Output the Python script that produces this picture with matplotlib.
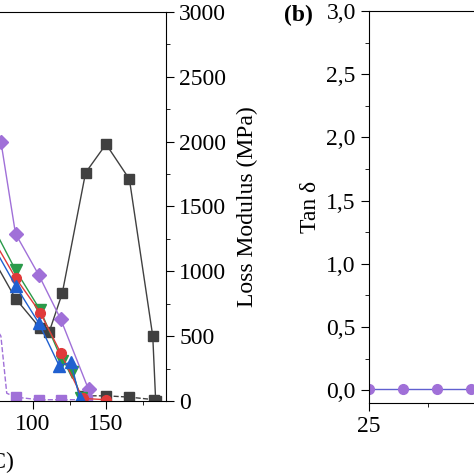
import matplotlib
matplotlib.use("Agg")
import matplotlib.pyplot as plt
from matplotlib.ticker import MultipleLocator, FixedLocator

plt.rcParams['font.family'] = ['Liberation Serif', 'DejaVu Serif']
plt.rcParams['font.size'] = 17

# Loss modulus (MPa) vs temperature (°C)
black_x = [70, 88, 105, 111, 120, 136, 150, 166, 182, 184]
black_y = [1150, 790, 560, 530, 830, 1760, 1980, 1710, 500, 0]
black0_x = [135, 150, 166, 183]
black0_y = [40, 40, 30, 10]
purple_x = [78, 88, 104, 119, 138]
purple_y = [2000, 1290, 970, 630, 90]
purple0_x = [70, 78, 82, 88, 104, 119, 137]
purple0_y = [650, 500, 60, 30, 10, 10, 10]
green_x = [70, 88, 105, 120, 127, 133]
green_y = [1400, 1010, 700, 310, 220, 20]
red_x = [70, 88, 105, 119, 134, 150]
red_y = [1300, 950, 680, 370, 20, 10]
blue_x = [70, 88, 104, 118, 126, 132]
blue_y = [1250, 890, 600, 270, 300, 20]

# Tan delta
tan_x = [25, 39.4, 53.8, 68.2, 82.6]
tan_y = [0.01, 0.01, 0.01, 0.01, 0.01]

fig = plt.figure(figsize=(4.74, 4.74), dpi=100)
ax = fig.add_axes([-0.3, 0.154, 0.65, 0.821])
ax.plot(black_x, black_y, color='#404040', marker='s', ms=7, lw=1)
ax.plot(black0_x, black0_y, color='#404040', marker='s', ms=7, lw=1, ls='--')
ax.plot(purple_x, purple_y, color='#a070d8', marker='D', ms=7, lw=1)
ax.plot(purple0_x, purple0_y, color='#a070d8', marker='s', ms=7, lw=1, ls='--', markevery=[3, 4, 5, 6])
ax.plot(green_x, green_y, color='#2a9a4a', marker='v', ms=8, lw=1)
ax.plot(red_x, red_y, color='#e03a3a', marker='o', ms=7, lw=1)
ax.plot(blue_x, blue_y, color='#2060d0', marker='^', ms=8, lw=1)
ax.set_xlim(-20, 191)
ax.set_ylim(0, 3000)
ax.yaxis.tick_right()
ax.yaxis.set_label_position('right')
ax.set_ylabel('Loss Modulus (MPa)', labelpad=8)
ax.yaxis.set_major_locator(MultipleLocator(500))
ax.yaxis.set_minor_locator(MultipleLocator(250))
ax.xaxis.set_major_locator(MultipleLocator(50))
ax.xaxis.set_minor_locator(MultipleLocator(25))
ax.tick_params(which='both', direction='out', length=6)
ax.tick_params(which='minor', length=3)
fig.text(14/474, 1-462/474, 'Temperature (°C)', ha='right', va='center')

ax2 = fig.add_axes([369/474, 0.150, 0.6, 0.827])
ax2.plot(tan_x, tan_y, color='#6060d0', marker='o', mfc='#a070d8', mec='#a070d8', ms=7, lw=1)
ax2.set_xlim(25, 145)
ax2.set_ylim(-0.1, 3.0)
ax2.yaxis.set_major_locator(MultipleLocator(0.5))
ax2.yaxis.set_minor_locator(MultipleLocator(0.25))
ax2.xaxis.set_major_locator(FixedLocator([25, 75, 125]))
ax2.xaxis.set_minor_locator(MultipleLocator(25))
ax2.yaxis.set_major_formatter(matplotlib.ticker.FuncFormatter(lambda v, p: f'{v:.1f}'.replace('.', ',')))
ax2.tick_params(which='both', direction='out', length=6)
ax2.tick_params(which='minor', length=3)
ax2.set_ylabel('Tan δ')
fig.text(298/474, 1-15/474, '(b)', ha='center', va='center', fontweight='bold')

fig.savefig('out.png', dpi=100)
